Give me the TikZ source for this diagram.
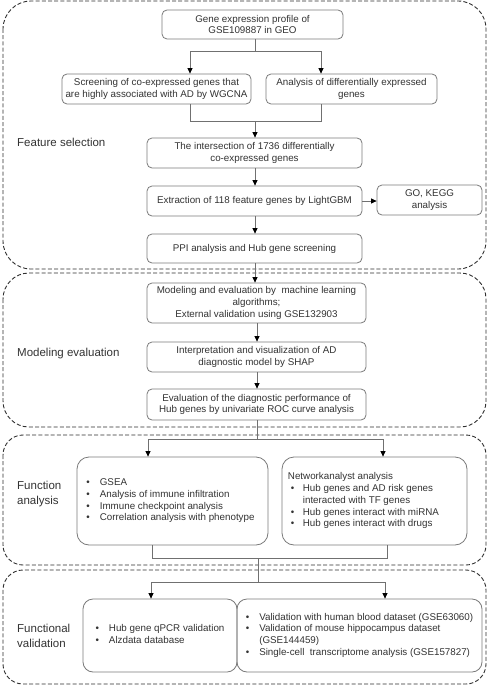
\documentclass[tikz,border=0pt]{standalone}
\usepackage{fontspec}
\setmainfont{Liberation Sans}
\usetikzlibrary{arrows.meta}
\definecolor{boxgray}{HTML}{7A7A7A}
\definecolor{lngray}{HTML}{707070}
\definecolor{grpc}{HTML}{303030}
\definecolor{txt}{HTML}{333333}
\tikzset{
  box/.style={draw=boxgray, rounded corners=5pt, line width=0.8pt, align=center,
    font=\fontsize{9.8}{11.7}\selectfont, text=txt, inner sep=0pt},
  grp/.style={draw=grpc, dash pattern=on 4pt off 2.2pt, line width=0.9pt},
  ln/.style={draw=lngray, line width=0.8pt},
  arr/.style={ln, -{Triangle[length=5.5pt,width=5pt,color=black]}},
  lab/.style={font=\fontsize{11.5}{14.5}\selectfont, text=txt, align=left, anchor=west, inner sep=0pt},
}
\newcommand{\bul}{\textbullet}
\begin{document}
\begin{tikzpicture}[x=1pt,y=-1pt]
\fill[white] (0,0) rectangle (489,685);
\useasboundingbox (0,0) rectangle (489,685);
% groups
\draw[grp, rounded corners=28pt] (3,1) rectangle (486,269);
\draw[grp, rounded corners=26pt] (3,273) rectangle (486,427);
\draw[grp, rounded corners=20pt] (3,435) rectangle (486,565);
\draw[grp, rounded corners=20pt] (3,570) rectangle (486,684);
% labels
\node[lab] (l1) at (17,142) {Feature selection};
\node[lab] (l2) at (17,354) {Modeling evaluation};
\node[lab] (l3) at (17,494) {Function\\analysis};
\node[lab] (l4) at (17,636) {Functional\\validation};
% boxes
\node[box, minimum width=181pt, minimum height=29pt] (b1) at (252.5,24.5) {Gene expression profile of\\GSE109887 in GEO};
\node[box, minimum width=189pt, minimum height=30pt] (b2) at (156.5,89) {Screening of co-expressed genes that\\are highly associated with AD by WGCNA};
\node[box, minimum width=171pt, minimum height=30pt] (b3) at (351.5,89) {Analysis of differentially expressed\\genes};
\node[box, minimum width=215pt, minimum height=30pt] (b4) at (254.5,153) {The intersection of 1736 differentially\\co-expressed genes};
\node[box, minimum width=215pt, minimum height=30pt] (b5) at (254.5,201) {Extraction of 118 feature genes by LightGBM};
\node[box, minimum width=105pt, minimum height=30pt] (go) at (429.5,200) {GO, KEGG\\analysis};
\node[box, minimum width=215pt, minimum height=29pt] (b6) at (254.5,248.5) {PPI analysis and Hub gene screening};
\node[box, minimum width=219pt, minimum height=40pt] (b7) at (256.5,303) {Modeling and evaluation by\ \ machine learning\\algorithms;\\External validation using GSE132903};
\node[box, minimum width=219pt, minimum height=30pt] (b8) at (256.5,357) {Interpretation and visualization of AD\\diagnostic model by SHAP};
\node[box, minimum width=219pt, minimum height=31pt] (b9) at (256.5,404.5) {Evaluation of the diagnostic performance of\\Hub genes by univariate ROC curve analysis};
\node[box, rounded corners=12pt, minimum width=191pt, minimum height=88pt] (f1) at (172.5,501)
 {\raisebox{6.5pt}{\begin{tabular}{@{}l@{\hspace{10pt}}l@{}}
 \bul & GSEA\\
 \bul & Analysis of immune infiltration\\
 \bul & Immune checkpoint analysis\\
 \bul & Correlation analysis with phenotype
 \end{tabular}}\hspace{4pt}};
\node[box, rounded corners=12pt, minimum width=185pt, minimum height=88pt] (f2) at (374.5,501)
 {\begin{tabular}{@{\hspace{3pt}}l@{\hspace{8.5pt}}l@{}}
 \multicolumn{2}{@{}l@{}}{Networkanalyst analysis}\\
 \bul & Hub genes and AD risk genes\\
     & interacted with TF genes\\
 \bul & Hub genes interact with miRNA\\
 \bul & Hub genes interact with drugs
 \end{tabular}\hspace{22pt}};
\node[box, rounded corners=10pt, minimum width=154pt, minimum height=73pt] (v1) at (160,635.5)
 {\begin{tabular}{@{}l@{\hspace{10pt}}l@{}}
 \bul & Hub gene qPCR validation\\
 \bul & Alzdata database
 \end{tabular}};
\node[box, rounded corners=10pt, minimum width=245pt, minimum height=73pt] (v2) at (359.5,635.5)
 {\begin{tabular}{@{}l@{\hspace{10pt}}l@{}}
 \bul & Validation with human blood dataset (GSE63060)\\
 \bul & Validation of mouse hippocampus dataset\\
     & (GSE144459)\\
 \bul & Single-cell\ \ transcriptome analysis (GSE157827)
 \end{tabular}};
% connectors
\coordinate (j1) at (255,51);
\coordinate (xa) at (190,0);
\coordinate (xb) at (321,0);
\draw[ln] (b1.south -| j1) -- (j1);
\draw[arr] (j1) -| (b2.north -| xa);
\draw[arr] (j1) -| (b3.north -| xb);
\coordinate (j2) at (255,121);
\draw[ln] (b2.south -| xa) -- (xa |- j2) -- (xb |- j2) -- (b3.south -| xb);
\draw[arr] (j2) -- (b4.north -| j2);
\draw[arr] (b4.south -| j2) -- (b5.north -| j2);
\draw[arr] (b5.east) -- (go.west |- b5.east);
\draw[arr] (b5.south -| j2) -- (b6.north -| j2);
\draw[arr] (b6.south -| j2) -- (b7.north -| j2);
\coordinate (xm) at (257,0);
\draw[arr] (b7.south -| xm) -- (b8.north -| xm);
\draw[arr] (b8.south -| xm) -- (b9.north -| xm);
\coordinate (j3) at (257,439);
\coordinate (xc) at (148,0);
\coordinate (xd) at (383,0);
\draw[ln] (b9.south -| xm) -- (j3);
\draw[arr] (j3) -| (f1.north -| xc);
\draw[arr] (j3) -| (f2.north -| xd);
\coordinate (j4) at (258,558);
\coordinate (xe) at (152,0);
\coordinate (xf) at (387,0);
\draw[ln] (f1.south -| xe) -- (xe |- j4) -- (xf |- j4) -- (f2.south -| xf);
\coordinate (j5) at (258,582);
\coordinate (xg) at (151,0);
\coordinate (xh) at (385,0);
\draw[ln] (j4) -- (j5);
\draw[arr] (j5) -| (v1.north -| xg);
\draw[arr] (j5) -| (v2.north -| xh);
\end{tikzpicture}
\end{document}
